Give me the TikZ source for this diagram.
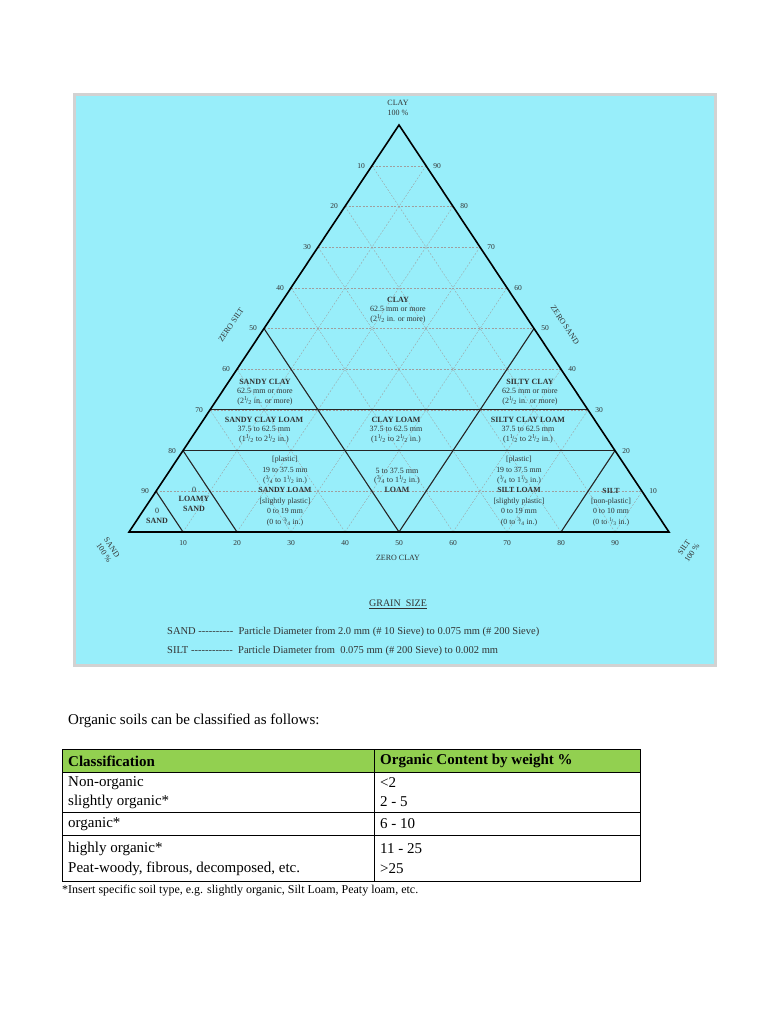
\documentclass[tikz,border=0pt]{standalone}
\usepackage{fontspec}
\setmainfont{Liberation Serif}
\definecolor{cyanbg}{RGB}{152,238,250}
\definecolor{hdrgreen}{RGB}{146,208,80}
\newcommand{\fr}[2]{\textsuperscript{#1}\!/\textsubscript{#2}}
\newcommand{\hy}{-{}}
\begin{document}
\begin{tikzpicture}[x=1pt,y=-1pt,
  grid/.style={gray!75,dashed,line width=0.35pt,dash pattern=on 2pt off 1.5pt},
  bound/.style={black!85,line width=1.1pt},
  lab/.style={font=\fontsize{8}{9.5}\selectfont,text=black!80,align=center,inner sep=0pt},
  num/.style={font=\fontsize{7.5}{8.5}\selectfont,text=black!80,inner sep=0pt},
  cell/.style={font=\fontsize{15}{18}\selectfont,anchor=west,align=left,inner sep=0pt}]
\useasboundingbox (0,0) rectangle (768,1024);
\fill[white] (0,0) rectangle (768,1024);
\fill[gray!35] (73,93) rectangle (717,667);
\begin{scope}
\clip (76,96) rectangle (714,664);
\fill[cyanbg] (76,96) rectangle (714,664);
\begin{scope}[shift={(129,532)},x={(5.4pt,0pt)},y={(2.7pt,4.07pt)}]
\foreach \k in {10,20,...,90}{
  \draw[grid] (0,\k) -- ({100-\k},\k);
  \draw[grid] (\k,0) -- (\k,{100-\k});
  \draw[grid] ({100-\k},0) -- (0,{100-\k});
}
\draw[bound] (0,30) -- (70,30);
\draw[bound] (0,20) -- (80,20);
\draw[bound] (50,0) -- (0,50);
\draw[bound] (50,0) -- (50,50);
\draw[bound] (20,0) -- (0,20);
\draw[bound] (10,0) -- (0,10);
\draw[bound] (80,0) -- (80,20);
\draw[black,line width=1.6pt,line join=miter] (0,0) -- (100,0) -- (0,100) -- cycle;
\end{scope}
\foreach \c in {10,20,...,90}{
  \pgfmathtruncatemacro{\lv}{100-\c}
  \node[num] at ({129+2.7*\c-11},{532-4.07*\c}) {\lv};
  \node[num] at ({669-2.7*\c+11},{532-4.07*\c}) {\c};
  \node[num] at ({129+5.4*\c},543) {\c};
}
\node[lab] (clay100) at (398,108) {CLAY\\100 \%};
\node[lab,rotate=56] (zsilt) at (231,325) {ZERO SILT};
\node[lab,rotate=-56] (zsand) at (565,325) {ZERO SAND};
\node[lab,rotate=-56] (sand100) at (108,550) {SAND\\100 \%};
\node[lab,rotate=56] (silt100) at (688,550) {SILT\\100 \%};
\node[lab] (zclay) at (398,558) {ZERO CLAY};
\node[lab] (clay) at (398,310) {\textbf{CLAY}\\62.5 mm or more\\(2\fr12 in. or more)};
\node[lab] (sc) at (265,392) {\textbf{SANDY CLAY}\\62.5 mm or more\\(2\fr12 in. or more)};
\node[lab] (sic) at (530,392) {\textbf{SILTY CLAY}\\62.5 mm or more\\(2\fr12 in. or more)};
\node[lab] (scl) at (264,430) {\textbf{SANDY CLAY LOAM}\\37.5 to 62.5 mm\\(1\fr12 to 2\fr12 in.)};
\node[lab] (cl) at (396,430) {\textbf{CLAY LOAM}\\37.5 to 62.5 mm\\(1\fr12 to 2\fr12 in.)};
\node[lab] (sicl) at (528,430) {\textbf{SILTY CLAY LOAM}\\37.5 to 62.5 mm\\(1\fr12 to 2\fr12 in.)};
\node[lab,font=\fontsize{7.8}{10.4}\selectfont] (sl) at (285,491) {[plastic]\\19 to 37.5 mm\\(\fr34 to 1\fr12 in.)\\\textbf{SANDY\ LOAM}\\{}[slightly plastic]\\0 to 19 mm\\(0 to \fr34 in.)};
\node[lab] (loam) at (397,480) {5 to 37.5 mm\\(\fr34 to 1\fr12 in.)\\\textbf{LOAM}};
\node[lab,font=\fontsize{7.8}{10.4}\selectfont] (sil) at (519,491) {[plastic]\\19 to 37.5 mm\\(\fr34 to 1\fr12 in.)\\\textbf{SILT\ LOAM}\\{}[slightly plastic]\\0 to 19 mm\\(0 to \fr34 in.)};
\node[lab,font=\fontsize{7.8}{10.4}\selectfont] (silt) at (611,507) {\textbf{SILT}\\{}[non-plastic]\\0 to 10 mm\\(0 to \fr13 in.)};
\node[lab] (ls) at (194,499) {0\\\textbf{LOAMY}\\\textbf{SAND}};
\node[lab] (sand) at (157,516) {0\\\textbf{SAND}};
\node[font=\fontsize{10}{12}\selectfont,text=black!80] (gs) at (398,604) {\underline{GRAIN\ \ SIZE}};
\node[font=\fontsize{10.5}{12}\selectfont,text=black!80,anchor=west,inner sep=0pt] (l1) at (167,632) {SAND \hy\hy\hy\hy\hy\hy\hy\hy\hy\hy\ \ Particle Diameter from 2.0 mm (\# 10 Sieve) to 0.075 mm (\# 200 Sieve)};
\node[font=\fontsize{10.5}{12}\selectfont,text=black!80,anchor=west,inner sep=0pt] (l2) at (167,651) {SILT \hy\hy\hy\hy\hy\hy\hy\hy\hy\hy\hy\hy\ \ Particle Diameter from \ 0.075 mm (\# 200 Sieve) to 0.002 mm};
\node[font=\fontsize{10.5}{12}\selectfont,text=black!30,anchor=west,inner sep=0pt] (l3) at (167,670) {CLAY \hy\hy\hy\hy\hy\hy\hy\hy\hy\hy\ \ Particle Diameter below 0.002 mm};
\end{scope}
\node[cell] (intro) at (68,721) {Organic soils can be classified as follows:};
\fill[hdrgreen] (62,749) rectangle (640,772);
\draw[black,line width=0.8pt] (62,749) rectangle (640,881);
\draw[black,line width=0.6pt] (62,772) -- (640,772) (62,812) -- (640,812) (62,835) -- (640,835) (374,749) -- (374,881);
\node[cell,font=\fontsize{15}{18}\selectfont\bfseries] (h1) at (68,761) {Classification};
\node[cell,font=\fontsize{15}{18}\selectfont\bfseries] (h2) at (380,761) {Organic Content by weight \%};
\node[cell] (a1) at (68,783) {Non-organic};
\node[cell] (a2) at (68,802) {slightly organic*};
\node[cell] (b1) at (380,783) {<2};
\node[cell] (b2) at (380,802) {2 - 5};
\node[cell] (a3) at (68,824) {organic*};
\node[cell] (b3) at (380,824) {6 - 10};
\node[cell] (a4) at (68,849) {highly organic*};
\node[cell] (a5) at (68,869) {Peat-woody, fibrous, decomposed, etc.};
\node[cell] (b4) at (380,849) {11 - 25};
\node[cell] (b5) at (380,869) {>25};
\node[cell,font=\fontsize{12}{14}\selectfont] (fn) at (62,891) {*Insert specific soil type, e.g. slightly organic, Silt Loam, Peaty loam, etc.};
\end{tikzpicture}
\end{document}
